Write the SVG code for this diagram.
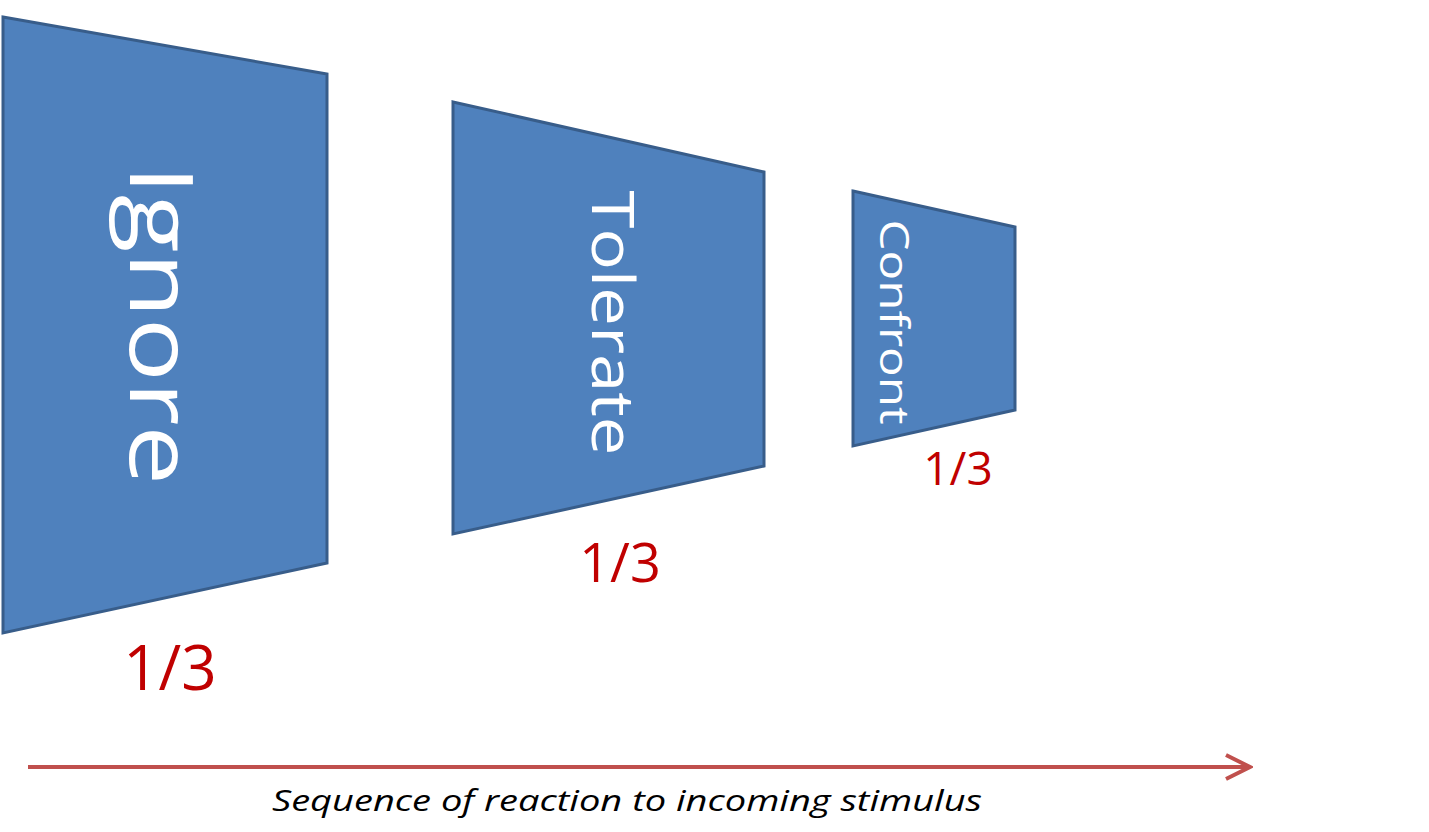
<svg xmlns="http://www.w3.org/2000/svg" width="1429" height="832" viewBox="0 0 1429 832">
<style>
.n{fill:#4F81BD;stroke:#385D8A;stroke-width:3}
.t{fill:#fff;font-family:"Open Sans","Liberation Sans",sans-serif;text-anchor:middle}
.r{fill:#C00000;font-family:"Open Sans","Liberation Sans",sans-serif;text-anchor:middle}
</style>
<defs><marker id="a" markerWidth="10" markerHeight="10" refX="8" refY="5" orient="auto" markerUnits="userSpaceOnUse"><path d="M0,0 L9,5 L0,10" fill="none" stroke="#C0504D" stroke-width="3"/></marker>
<marker id="ah" viewBox="0 0 30 30" markerWidth="30" markerHeight="30" refX="27" refY="15" orient="auto" markerUnits="userSpaceOnUse"><path d="M3,3 L27,15 L3,27" fill="none" stroke="#C0504D" stroke-width="4"/></marker></defs>
<rect width="1429" height="832" fill="#fff"/>
<g id="ignore"><polygon class="n" points="3,17 327,74 327,563 3,633"/>
<text class="t" transform="translate(130,325) rotate(90)" font-size="88" textLength="320" lengthAdjust="spacingAndGlyphs">Ignore</text>
<text class="r" x="170" y="690" font-size="62">1/3</text></g>
<g id="tolerate"><polygon class="n" points="453,102 764,172 764,466 453,534"/>
<text class="t" transform="translate(592,323) rotate(90)" font-size="58" textLength="265" lengthAdjust="spacingAndGlyphs">Tolerate</text>
<text class="r" x="620" y="582" font-size="54">1/3</text></g>
<g id="confront"><polygon class="n" points="853,191 1015,227 1015,410 853,446"/>
<text class="t" transform="translate(880,322) rotate(90)" font-size="40" textLength="205" lengthAdjust="spacingAndGlyphs">Confront</text>
<text class="r" x="958" y="485" font-size="46">1/3</text></g>
<g id="connectors"><line x1="28" y1="767" x2="1250" y2="767" stroke="#C0504D" stroke-width="4" marker-end="url(#ah)"/></g>
<text x="627" y="811" font-family="'Open Sans','Liberation Sans',sans-serif" font-style="italic" font-size="30" text-anchor="middle" textLength="710" lengthAdjust="spacingAndGlyphs" fill="#000">Sequence of reaction to incoming stimulus</text>
</svg>
